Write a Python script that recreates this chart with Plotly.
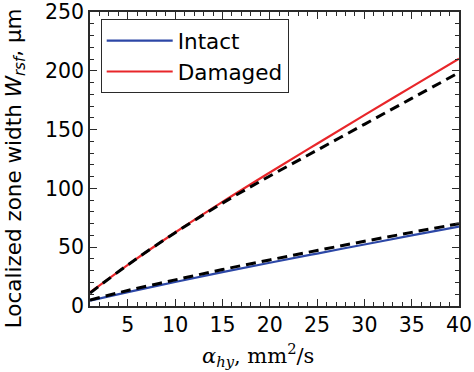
import plotly.graph_objects as go

alpha = [1, 5, 10, 15, 20, 25, 30, 35, 40]
intact = [4.5, 11.8, 20.4, 28.8, 36.8, 44.6, 52.3, 60, 67.5]
intact_fit = [5, 13.2, 22.2, 31, 39.2, 47.2, 55, 62.6, 70]
damaged = [11.5, 35, 62.5, 88.5, 113.5, 138, 162.3, 186.3, 210.3]
damaged_fit = [11, 35, 62.3, 87.5, 110.5, 132.5, 154.5, 176.5, 198.5]

x_ticks = [5, 10, 15, 20, 25, 30, 35, 40]
y_ticks = [0, 50, 100, 150, 200, 250]

x_title = "<i>α</i><sub><i>hy</i></sub>, mm<sup>2</sup>/s"
y_title = "Localized zone width <i>W</i><sub><i>rsf</i></sub>, μm"

FONT = "DejaVu Sans"
AX = "#2a2a2a"

fig = go.Figure()
fig.add_trace(go.Scatter(x=alpha, y=intact, mode="lines", name="Intact",
                         line=dict(color="#2c47a6", width=2.2, shape="spline")))
fig.add_trace(go.Scatter(x=alpha, y=damaged, mode="lines", name="Damaged",
                         line=dict(color="#e8262a", width=2.2, shape="spline")))
fig.add_trace(go.Scatter(x=alpha, y=intact_fit, mode="lines", showlegend=False,
                         line=dict(color="black", width=3, dash="10px,6px", shape="spline")))
fig.add_trace(go.Scatter(x=alpha, y=damaged_fit, mode="lines", showlegend=False,
                         line=dict(color="black", width=3, dash="10px,6px", shape="spline")))

axis_common = dict(
    showline=True, linecolor=AX, linewidth=1.5, mirror="ticks",
    ticks="inside", ticklen=7, tickwidth=1.2, tickcolor=AX,
    showgrid=False, zeroline=False, automargin=False,
    ticklabeloverflow="allow",
    tickfont=dict(family=FONT, size=20.5, color="black"),
)

fig.update_xaxes(
    range=[1, 40], tickvals=x_ticks,
    minor=dict(ticks="inside", dtick=1, tick0=0, ticklen=4, tickcolor=AX, tickwidth=1),
    **axis_common,
)
fig.update_yaxes(
    range=[0, 250], tickvals=y_ticks,
    minor=dict(ticks="inside", dtick=10, tick0=0, ticklen=4, tickcolor=AX, tickwidth=1),
    **axis_common,
)

fig.add_annotation(text=x_title, xref="paper", yref="paper",
                   x=0.455, y=-0.168, xanchor="center", yanchor="middle",
                   showarrow=False,
                   font=dict(family="DejaVu Serif", size=21, color="black"))
fig.add_annotation(text=y_title, xref="paper", yref="paper",
                   x=-0.202, y=0.47, xanchor="center", yanchor="middle",
                   textangle=-90, showarrow=False, borderpad=0,
                   font=dict(family=FONT, size=21.5, color="black"))

fig.update_layout(
    width=474, height=372,
    margin=dict(l=90, r=15, t=12, b=66),
    paper_bgcolor="white", plot_bgcolor="white",
    font=dict(family=FONT, size=20, color="black"),
    legend=dict(x=0.029, y=0.976, xanchor="left", yanchor="top",
                bgcolor="white", bordercolor=AX, borderwidth=1,
                font=dict(family=FONT, size=21.5, color="black"),
                itemwidth=66),
)

fig.write_html("out.html",
               config={"displayModeBar": False},
               post_script="document.body.style.margin='0';document.body.style.overflow='hidden';")
